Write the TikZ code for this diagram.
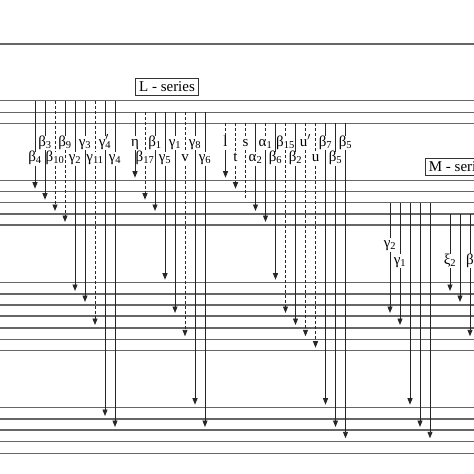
\documentclass[tikz,border=0pt]{standalone}
\usepackage{fontspec}
\setmainfont{Liberation Serif}
\usetikzlibrary{arrows.meta}

\tikzset{
	shell/.style={line width=1.2pt, black!60},
	lbl/.style={inner sep=0.8pt, text height=9pt, text depth=3pt},
	topline/.style={line width=0.9pt, black!85},
	topdash/.style={topline, dash pattern=on 3pt off 2pt},
	arrline/.style={topline, -{Triangle[length=6.5pt,width=5pt]}},
	arrdash/.style={topdash, -{Triangle[length=6.5pt,width=5pt]}},
	dashend/.style={topdash},
	serbox/.style={draw, line width=0.8pt, black!80, text=black, inner sep=3.5pt}
}

\begin{document}
\begin{tikzpicture}[x=1pt, y=-1pt, font=\fontsize{15}{17}\selectfont]
	\useasboundingbox (0,0) rectangle (474,474);
	\clip (0,0) rectangle (474,474);
	\foreach \y in {44,100.7,112.3,123.3,180.7,191.7,202.7,214,225,282.7,294,305,316,328,339.3,350.7,407.7,419,430,441.3,453.3}
	{
		\draw[shell] (0,\y) -- (474,\y);
	}
	\node[serbox] (lser) at (167,86.7) {L - series};
	\node[serbox, anchor=west] (mser) at (425,166.7) {M - series};
	\foreach \x/\ys/\yl/\ye/\lab/\sa/\sb [count=\i] in {
		35/100.7/158.5/191.7/β\textsubscript{4}/topline/arrline,
		45/100.7/143/202.7/β\textsubscript{3}/topline/arrline,
		55/100.7/158.5/214/β\textsubscript{10}/topdash/arrdash,
		65/100.7/143/225/β\textsubscript{9}/topline/arrdash,
		75/100.7/158.5/294/γ\textsubscript{2}/topline/arrline,
		85/100.7/143/305/γ\textsubscript{3}/topline/arrline,
		95/100.7/158.5/328/γ\textsubscript{11}/topdash/arrdash,
		105/100.7/143/419/γ\rlap{$^{\prime}$}\textsubscript{4}/topline/arrline,
		115/100.7/158.5/430/γ\textsubscript{4}/topline/arrline,
		135/112.3/143/180.7/η/topline/arrline,
		145/112.3/158.5/202.7/β\textsubscript{17}/topdash/arrdash,
		155/112.3/143/214/β\textsubscript{1}/topline/arrline,
		165/112.3/158.5/282.7/γ\textsubscript{5}/topline/arrline,
		175/112.3/143/316/γ\textsubscript{1}/topline/arrline,
		185/112.3/158.5/339.3/v/topdash/arrdash,
		195/112.3/143/407.7/γ\textsubscript{8}/topline/arrline,
		205/112.3/158.5/430/γ\textsubscript{6}/topline/arrline,
		225.5/123.3/143/180.7/l/topdash/arrline,
		235.5/123.3/158.5/191.7/t/topdash/arrdash,
		245.5/123.3/143/202.7/s/topdash/dashend,
		255.5/123.3/158.5/214/α\textsubscript{2}/topline/arrline,
		265.5/123.3/143/225/α\textsubscript{1}/topdash/arrline,
		275.5/123.3/158.5/282.7/β\textsubscript{6}/topline/arrline,
		285.5/123.3/143/316/β\textsubscript{15}/topdash/arrdash,
		295.5/123.3/158.5/328/β\textsubscript{2}/topline/arrline,
		305.5/123.3/143/339.3/u$'$/topdash/arrdash,
		315.5/123.3/158.5/350.7/u/topdash/arrdash,
		325.5/123.3/143/407.7/β\textsubscript{7}/topline/arrline,
		335.5/123.3/158.5/430/β\textsubscript{5}/topline/arrline,
		345.5/123.3/143/441.3/β\textsubscript{5}/topline/arrline,
		390/202.7/244.75/316/γ\textsubscript{2}/topline/arrline,
		400/202.7/261.4/328/γ\textsubscript{1}/topline/arrline,
		450/214/261.4/294/ξ\textsubscript{2}/topline/arrline,
		470/214/261.4/339.3/β/topline/arrline}
	{
		\coordinate (s\i) at (\x,\ys);
		\coordinate (e\i) at (\x,\ye-3);
		\node[lbl] (l\i) at (\x,\yl) {\lab};
		\draw[\sa] (s\i) -- (l\i);
		\draw[\sb] (l\i) -- (e\i);
	}
	\foreach \x/\ys/\ye in {410/202.7/407.7, 420/202.7/430, 430/202.7/441.3, 460/214/305}
	{
		\coordinate (ms\x) at (\x,\ys);
		\coordinate (me\x) at (\x,\ye-3);
		\draw[arrline] (ms\x) -- (me\x);
	}
\end{tikzpicture}
\end{document}
